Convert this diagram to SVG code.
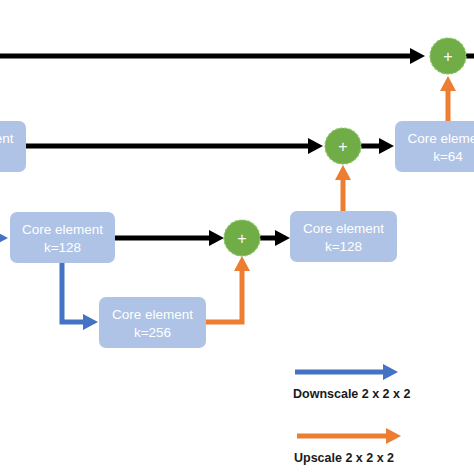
<svg xmlns="http://www.w3.org/2000/svg" width="474" height="474" viewBox="0 0 474 474">
<style>
.box{fill:#aec3e6;}
.bt{fill:#ffffff;font-family:"Liberation Sans",Arial,sans-serif;font-size:13.5px;text-anchor:middle;}
.sum{fill:#70ad47;stroke:#8cc46a;stroke-width:1.2;stroke-dasharray:3 1.5;}
.plus{fill:#ffffff;font-family:"Liberation Sans",Arial,sans-serif;font-size:16px;text-anchor:middle;}
.blk{fill:none;stroke:#000000;stroke-width:5;}
.org{fill:none;stroke:#ed7d31;stroke-width:5;}
.blu{fill:none;stroke:#4472c4;stroke-width:5;}
.lg{fill:#1a1a1a;font-family:"Liberation Sans",Arial,sans-serif;font-size:12.5px;font-weight:bold;}
</style>
<defs>
<marker id="hk" viewBox="0 0 15 16" refX="2" refY="8" markerWidth="15" markerHeight="16" markerUnits="userSpaceOnUse" orient="auto"><path d="M0,0 L15,8 L0,16 z" fill="#000000"/></marker>
<marker id="ho" viewBox="0 0 15 16" refX="2" refY="8" markerWidth="15" markerHeight="16" markerUnits="userSpaceOnUse" orient="auto"><path d="M0,0 L15,8 L0,16 z" fill="#ed7d31"/></marker>
<marker id="hb" viewBox="0 0 15 16" refX="2" refY="8" markerWidth="15" markerHeight="16" markerUnits="userSpaceOnUse" orient="auto"><path d="M0,0 L15,8 L0,16 z" fill="#4472c4"/></marker>
</defs>
<rect width="474" height="474" fill="#ffffff"/>
<g id="connectors">
<path class="blk" d="M0,56 H412" marker-end="url(#hk)"/>
<path class="blk" d="M466,56 H474"/>
<path class="blk" d="M26,146 H310" marker-end="url(#hk)"/>
<path class="blk" d="M361,146 H381" marker-end="url(#hk)"/>
<path class="org" d="M448,121 V89" marker-end="url(#ho)"/>
<path class="blu" d="M-20,238 H-5" marker-end="url(#hb)"/>
<path class="blk" d="M115,238 H211" marker-end="url(#hk)"/>
<path class="blk" d="M260,238 H277" marker-end="url(#hk)"/>
<path class="org" d="M343,211 V178" marker-end="url(#ho)"/>
<path class="blu" d="M62,263 V322 H85" marker-end="url(#hb)"/>
<path class="org" d="M206,322 H242 V269" marker-end="url(#ho)"/>
</g>
<g id="sum1"><circle class="sum" cx="448" cy="56" r="18"/><text class="plus" x="448" y="62">+</text></g>
<g id="sum2"><circle class="sum" cx="343" cy="146" r="18"/><text class="plus" x="343" y="152">+</text></g>
<g id="sum3"><circle class="sum" cx="242" cy="238" r="18"/><text class="plus" x="242" y="244">+</text></g>
<g id="core-left-mid"><rect class="box" x="-80" y="121" width="106" height="51" rx="7"/><text class="bt" x="-27" y="143">Core element</text></g>
<g id="core-k64"><rect class="box" x="395" y="121" width="106" height="51" rx="7"/><text class="bt" x="448" y="143">Core element</text><text class="bt" x="448" y="161">k=64</text></g>
<g id="core-k128-left"><rect class="box" x="10" y="212" width="105" height="51" rx="7"/><text class="bt" x="62.5" y="234">Core element</text><text class="bt" x="62.5" y="252">k=128</text></g>
<g id="core-k128-right"><rect class="box" x="290" y="211" width="107" height="51" rx="7"/><text class="bt" x="343.5" y="233">Core element</text><text class="bt" x="343.5" y="251">k=128</text></g>
<g id="core-k256"><rect class="box" x="99" y="297" width="107" height="51" rx="7"/><text class="bt" x="152.5" y="319">Core element</text><text class="bt" x="152.5" y="337">k=256</text></g>
<g id="legend">
<path class="blu" d="M295,372 H385" marker-end="url(#hb)"/>
<text class="lg" x="293" y="398">Downscale 2 x 2 x 2</text>
<path class="org" d="M297,436 H388" marker-end="url(#ho)"/>
<text class="lg" x="294" y="462">Upscale 2 x 2 x 2</text>
</g>
</svg>
